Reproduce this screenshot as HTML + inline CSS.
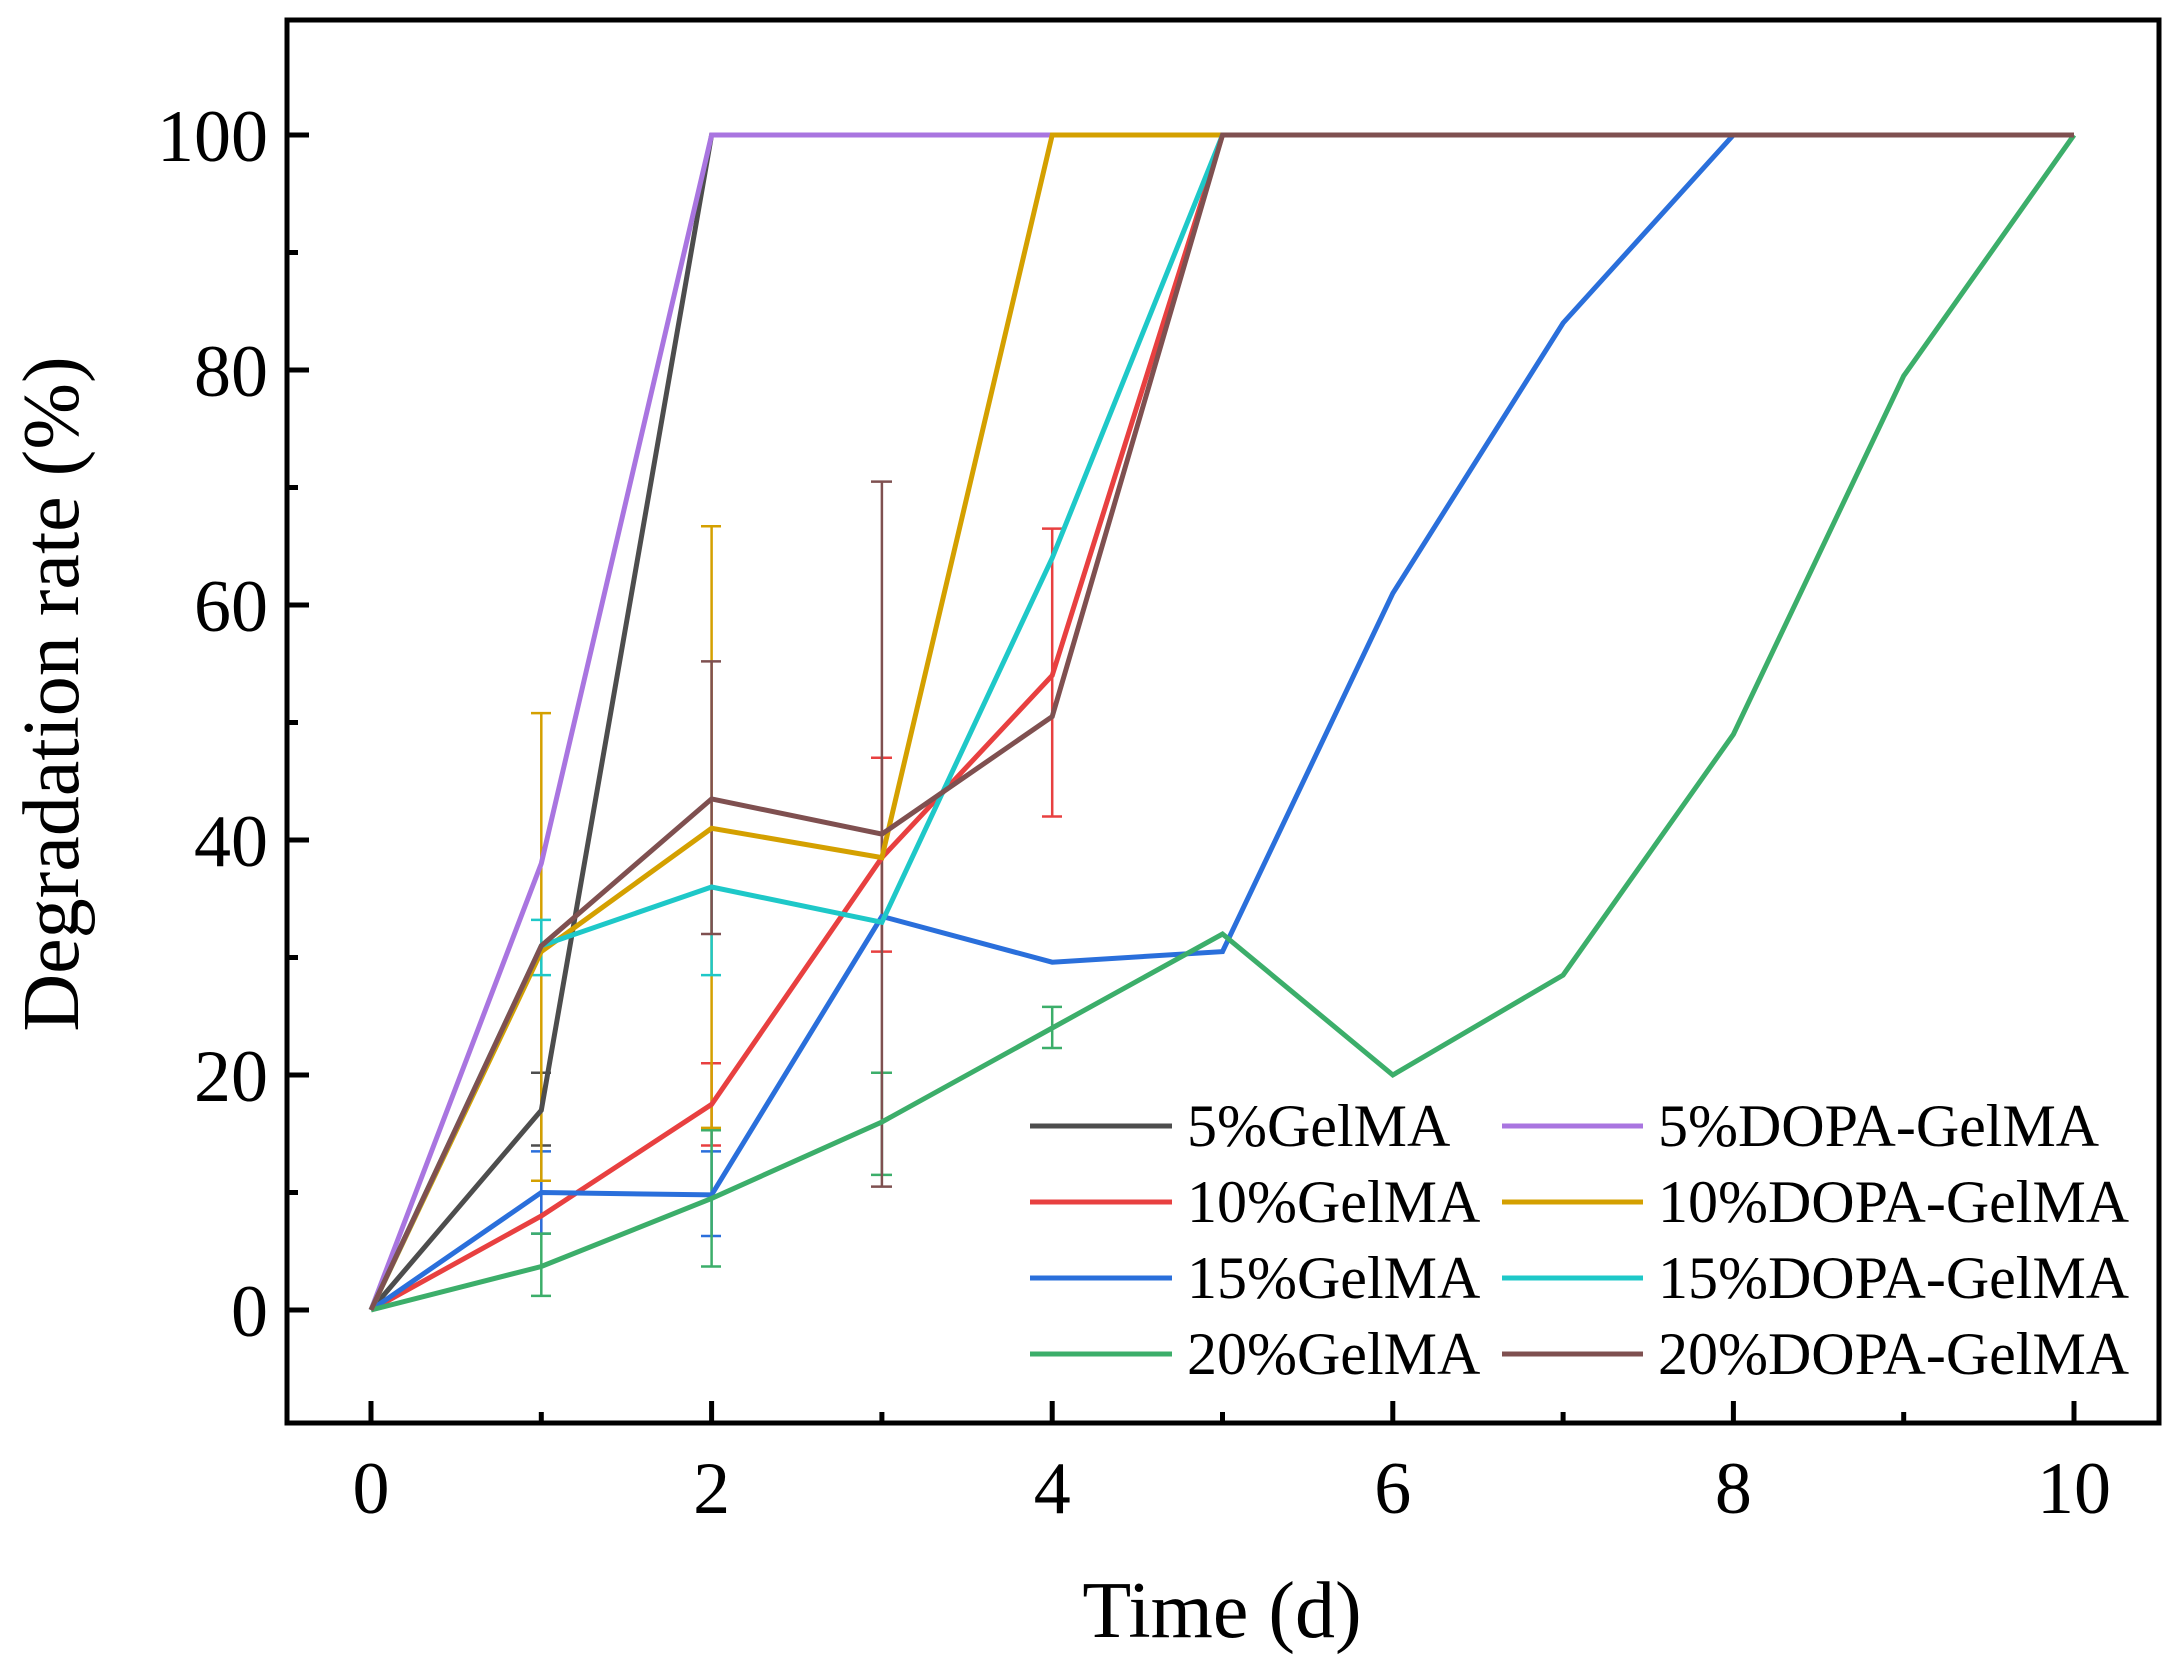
<!DOCTYPE html>
<html><head><meta charset="utf-8"><style>
html,body{margin:0;padding:0;background:#fff;}
svg{display:block;}
text{font-family:"Liberation Serif",serif;fill:#000;}
.d{fill:none;stroke-width:5;stroke-linejoin:miter;}
.e{fill:none;stroke-width:2.5;}
</style></head><body>
<svg width="2175" height="1671" viewBox="0 0 2175 1671" xmlns="http://www.w3.org/2000/svg">
<rect width="2175" height="1671" fill="#fff"/>
<!-- error bars -->
<path class="e" stroke="#4d4d4d" d="M541.3 1145.5V1072.7M531 1145.5H551M531 1072.7H551"/>
<path class="e" stroke="#e84040" d="M541.3 1233.6V1192.5M711.6 1145.5V1063.3M701 1145.5H721M701 1063.3H721M881.9 951.6V757.8M871 951.6H892M871 757.8H892M1052.2 816.5V528.6M1042 816.5H1062M1042 528.6H1062"/>
<path class="e" stroke="#2a6fdb" d="M541.3 1233.6V1151.4M531 1233.6H551M531 1151.4H551M711.6 1236V1151.4M701 1236H721M701 1151.4H721"/>
<path class="e" stroke="#3cae6a" d="M541.3 1295.9V1233.6M531 1295.9H551M531 1233.6H551M711.6 1266.5V1130.2M701 1266.5H721M701 1130.2H721M881.9 1174.9V1072.7M871 1174.9H892M871 1072.7H892M1052.2 1048V1006.9M1042 1048H1062M1042 1006.9H1062"/>
<path class="e" stroke="#d4a000" d="M541.3 1180.8V713.1M531 1180.8H551M531 713.1H551M711.6 1127.9V526.3M701 1127.9H721M701 526.3H721"/>
<path class="e" stroke="#1ec8c8" d="M541.3 975.1V919.9M531 975.1H551M531 919.9H551M711.6 975.1V887M701 975.1H721"/>
<path class="e" stroke="#7f5050" d="M711.6 934V661.4M701 934H721M701 661.4H721M881.9 1186.6V481.6M871 1186.6H892M871 481.6H892"/>
<!-- series -->
<polyline class="d" stroke="#4d4d4d" points="371,1310 541.3,1110.3 711.6,135 2074,135"/>
<polyline class="d" stroke="#e84040" points="371,1310 541.3,1216 711.6,1104.4 881.9,857.6 1052.2,675.5 1222.5,135 2074,135"/>
<polyline class="d" stroke="#2a6fdb" points="371,1310 541.3,1192.5 711.6,1194.9 881.9,916.4 1052.2,962.2 1222.5,951.6 1392.8,593.3 1563.1,323 1733.4,135 2074,135"/>
<polyline class="d" stroke="#3cae6a" points="371,1310 541.3,1266.5 711.6,1198.4 881.9,1122 1052.2,1028 1222.5,934 1392.8,1075 1563.1,975.1 1733.4,734.3 1903.7,375.9 2074,135"/>
<polyline class="d" stroke="#a975e0" points="371,1310 541.3,863.5 711.6,135 2074,135"/>
<polyline class="d" stroke="#d4a000" points="371,1310 541.3,951.6 711.6,828.3 881.9,857.6 1052.2,135 2074,135"/>
<polyline class="d" stroke="#1ec8c8" points="371,1310 541.3,945.8 711.6,887 881.9,922.3 1052.2,558 1222.5,135 2074,135"/>
<polyline class="d" stroke="#7f5050" points="371,1310 541.3,945.8 711.6,798.9 881.9,834.1 1052.2,716.6 1222.5,135 2074,135"/>
<!-- axes frame -->
<rect x="287" y="20" width="1872" height="1403" fill="none" stroke="#000" stroke-width="5"/>
<g stroke="#000" stroke-width="5">
 <path d="M287 1310H309M287 1075H309M287 840H309M287 605H309M287 370H309M287 135H309"/>
 <path d="M287 1192.5H298M287 957.5H298M287 722.5H298M287 487.5H298M287 252.5H298"/>
 <path d="M371 1423V1401M711.6 1423V1401M1052.2 1423V1401M1392.8 1423V1401M1733.4 1423V1401M2074 1423V1401"/>
 <path d="M541.3 1423V1412M881.9 1423V1412M1222.5 1423V1412M1563.1 1423V1412M1903.7 1423V1412"/>
</g>
<g font-size="74" text-anchor="end">
 <text x="268" y="1336">0</text>
 <text x="268" y="1101">20</text>
 <text x="268" y="866">40</text>
 <text x="268" y="631">60</text>
 <text x="268" y="396">80</text>
 <text x="268" y="161">100</text>
</g>
<g font-size="74" text-anchor="middle">
 <text x="371" y="1513">0</text>
 <text x="711.6" y="1513">2</text>
 <text x="1052.2" y="1513">4</text>
 <text x="1392.8" y="1513">6</text>
 <text x="1733.4" y="1513">8</text>
 <text x="2074" y="1513">10</text>
</g>
<text x="1222" y="1637" font-size="80" text-anchor="middle">Time (d)</text>
<text transform="translate(78,694) rotate(-90)" font-size="80" text-anchor="middle">Degradation rate (%)</text>
<g stroke-width="5">
 <line x1="1030" y1="1126" x2="1172" y2="1126" stroke="#4d4d4d"/>
 <line x1="1030" y1="1202" x2="1172" y2="1202" stroke="#e84040"/>
 <line x1="1030" y1="1278" x2="1172" y2="1278" stroke="#2a6fdb"/>
 <line x1="1030" y1="1354" x2="1172" y2="1354" stroke="#3cae6a"/>
 <line x1="1502" y1="1126" x2="1643" y2="1126" stroke="#a975e0"/>
 <line x1="1502" y1="1202" x2="1643" y2="1202" stroke="#d4a000"/>
 <line x1="1502" y1="1278" x2="1643" y2="1278" stroke="#1ec8c8"/>
 <line x1="1502" y1="1354" x2="1643" y2="1354" stroke="#7f5050"/>
</g>
<g font-size="60">
 <text x="1187" y="1146">5%GelMA</text>
 <text x="1187" y="1222">10%GelMA</text>
 <text x="1187" y="1298">15%GelMA</text>
 <text x="1187" y="1374">20%GelMA</text>
 <text x="1658" y="1146">5%DOPA-GelMA</text>
 <text x="1658" y="1222">10%DOPA-GelMA</text>
 <text x="1658" y="1298">15%DOPA-GelMA</text>
 <text x="1658" y="1374">20%DOPA-GelMA</text>
</g>
</svg>
</body></html>
